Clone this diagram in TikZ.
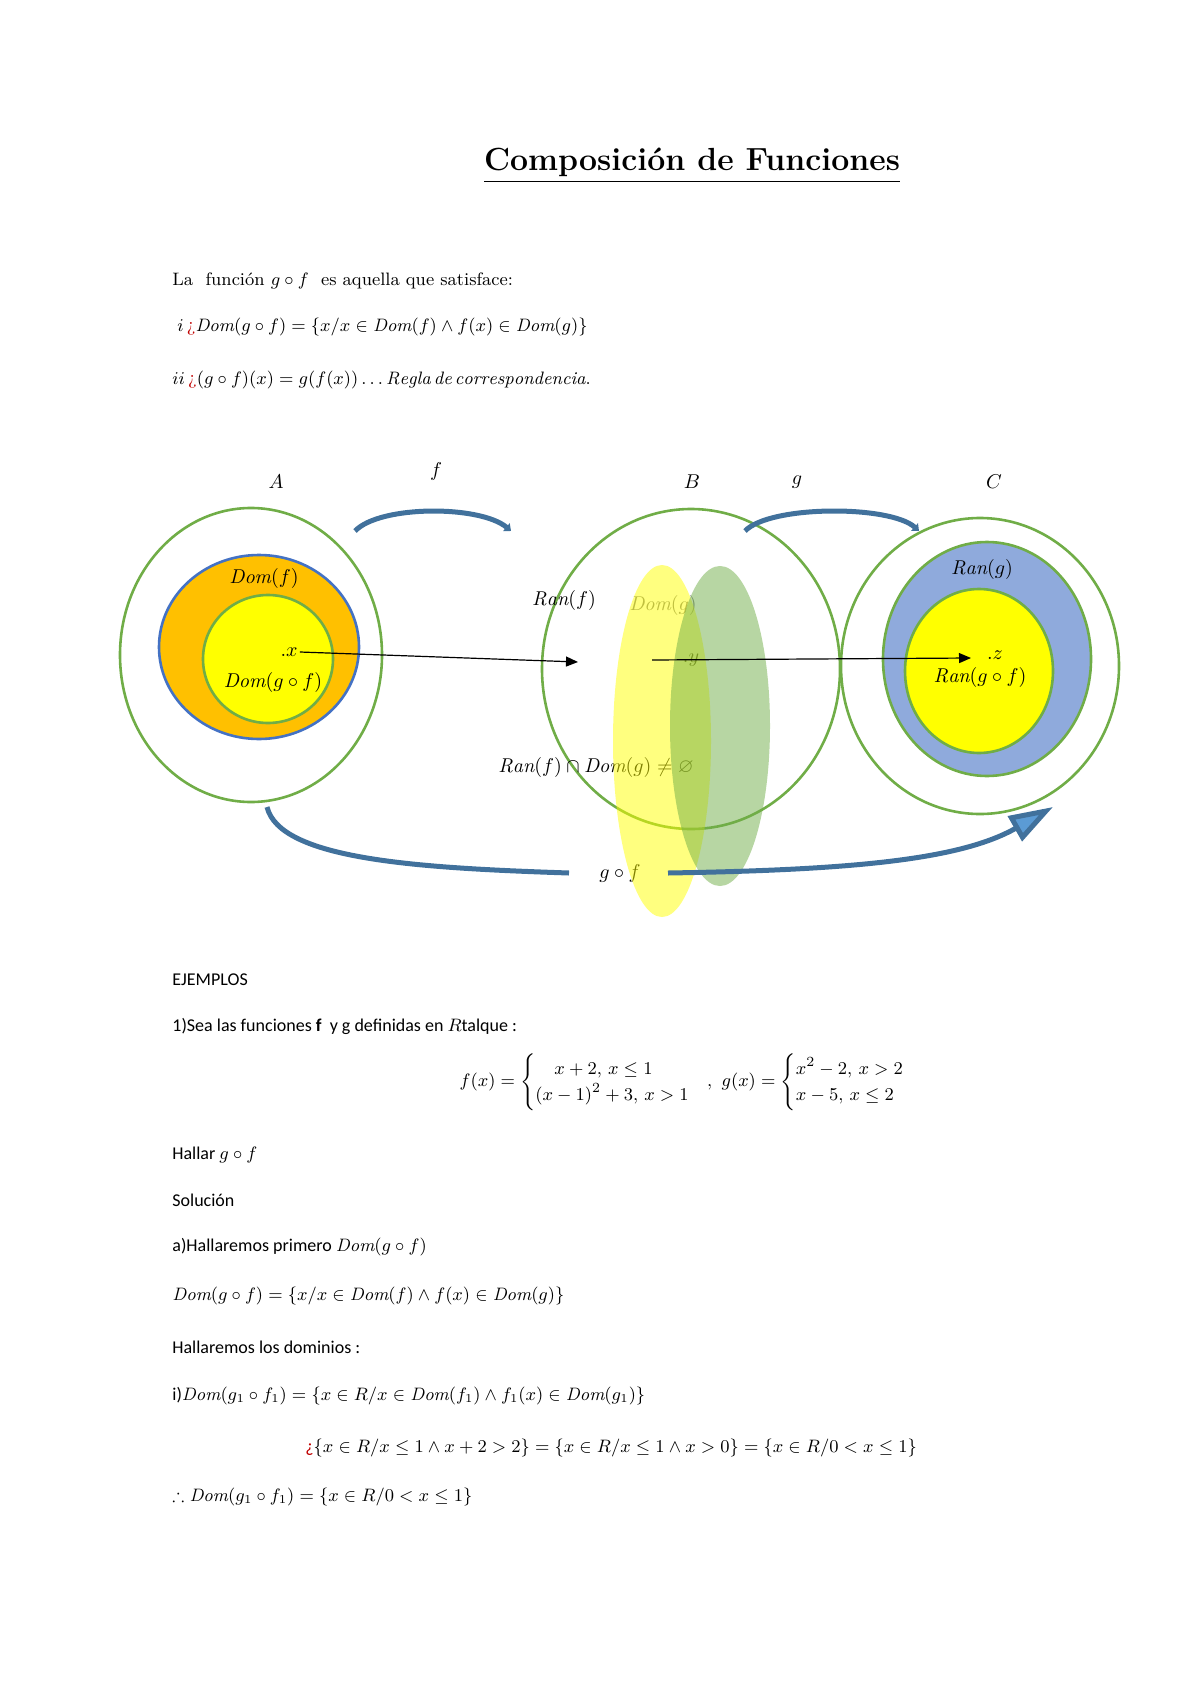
\documentclass[tikz,border=0pt]{standalone}
\usepackage{amsmath,amssymb}
\usepackage{fontspec}
\newfontfamily\carl{Carlito}
\usetikzlibrary{arrows.meta}
\definecolor{gr}{HTML}{70AD47}
\definecolor{bl}{HTML}{4472C4}
\definecolor{or}{HTML}{FFC000}
\definecolor{lb}{HTML}{8FAADC}
\definecolor{ab}{HTML}{41719C}
\definecolor{ah}{HTML}{5B9BD5}
\definecolor{rd}{HTML}{C00000}
\definecolor{yl}{HTML}{FFFF00}
\newcommand{\D}{\mathit{Dom}}
\newcommand{\Rn}{\mathit{Ran}}
\begin{document}
\begin{tikzpicture}[x=0.5pt,y=-0.5pt,
  ell/.style={line width=1.3pt},
  lab/.style={font=\fontsize{10}{12}\selectfont},
  txt/.style={anchor=west,inner sep=0pt,font=\fontsize{9}{11}\selectfont},
  stxt/.style={anchor=west,inner sep=0pt,font=\carl\fontsize{9}{11}\selectfont},
  barrow/.style={ab,line width=2.5pt}]
\useasboundingbox (0,0) rectangle (1200,1696);
\node[font=\bfseries\fontsize{16}{18}\selectfont] (title) at (692,166) {\underline{Composición de Funciones}};
\node[txt] (l1) at (172,281) {La\ \ función $g\circ f$\ \ es aquella que satisface:};
\node[txt] (l2) at (177,327) {$i\,$\textcolor{rd}{¿}$\D(g\circ f)=\{x/x\in \D(f)\wedge f(x)\in \D(g)\}$};
\node[txt] (l3) at (172,380) {$ii\,$\textcolor{rd}{¿}$(g\circ f)(x)=g(f(x))\ldots \mathit{Regla\,de\,correspondencia}.$};
% A
\draw[gr,ell] (251,655) ellipse [x radius=131,y radius=147];
\draw[bl,ell,fill=or] (259,647) ellipse [x radius=100,y radius=92];
\draw[gr,ell,fill=yl] (268,659) ellipse [x radius=65,y radius=64];
% B
\draw[gr,ell] (691,669) ellipse [x radius=149,y radius=160];
% C
\draw[gr,ell] (980,666) ellipse [x radius=139,y radius=148];
\draw[gr,ell,fill=lb] (987,659) ellipse [x radius=104,y radius=117];
\draw[gr,ell,fill=yl] (979,671) ellipse [x radius=74,y radius=82];
% labels
\node[lab] (A) at (276,482) {$A$};
\node[lab] (fl) at (436,471) {$f$};
\node[lab] (B) at (692,482) {$B$};
\node[lab] (gl) at (797,482) {$g$};
\node[lab] (C) at (994,482) {$C$};
\node[lab] (domf) at (264,578) {$\D(f)$};
\node[lab,inner sep=1pt] (x) at (289,652) {$.x$};
\node[lab] (domgf) at (273,682) {$\D(g\circ f)$};
\node[lab] (ranf) at (564,600) {$\Rn(f)$};
\node[lab,inner sep=1pt] (y) at (691,660) {$.y$};
\node[lab] (rang) at (982,569) {$\Rn(g)$};
\node[lab,inner sep=1pt] (z) at (995,655) {$.z$};
\node[lab] (rangf) at (980,677) {$\Rn(g\circ f)$};
\node[lab] (inter) at (596,767) {$\Rn(f)\cap\D(g)\neq\varnothing$};
\node[lab,text=gray] (domg) at (663,605) {$\D(g)$};
\node[lab] (gof) at (620,873) {$g\circ f$};
% transparent ellipses
\fill[yl,opacity=0.5] (662,741) ellipse [x radius=49,y radius=176];
\fill[gr,opacity=0.5] (720,726) ellipse [x radius=50,y radius=160];
% f and g arcs
\coordinate (f1) at (355,531); \coordinate (f2) at (511,531);
\coordinate (g1) at (745,531); \coordinate (g2) at (919,531);
\draw[barrow,-{Triangle[width=5pt,length=3pt]}] (f1) .. controls (380,505) and (480,505) .. (f2);
\draw[barrow,-{Triangle[width=5pt,length=3pt]}] (g1) .. controls (770,505) and (890,505) .. (g2);
% point arrows
\coordinate (bx) at (578,662); \coordinate (ay) at (652,660); \coordinate (cz) at (971,658);
\draw[-{Triangle[width=5pt,length=6pt]},line width=0.6pt] (x.east) -- (bx);
\draw[-{Triangle[width=5pt,length=6pt]},line width=0.6pt] (ay) -- (cz);
% bottom arrow
\coordinate (b1) at (267,807); \coordinate (b2) at (569,873);
\coordinate (b3) at (668,873); \coordinate (b4) at (1053,807);
\draw[barrow] (b1) .. controls (280,860) and (420,868) .. (b2);
\draw[barrow,-{Triangle[width=14pt,length=22pt,fill=ah]}] (b3) .. controls (850,870) and (960,860) .. (b4);
% examples
\node[stxt] (ej) at (172,980) {EJEMPLOS};
\node[stxt] (s1) at (172,1026) {1)Sea las funciones \textbf{f}\ \ y g definidas en $R$talque :};
\node[inner sep=0pt,font=\fontsize{9.5}{11}\selectfont] (pw) at (692,1082) {$f(x)=\begin{cases}\quad x+2,\,x\leq 1\\ (x-1)^2+3,\,x>1\end{cases}\!\!,\ g(x)=\begin{cases}x^2-2,\,x>2\\ x-5,\,x\leq 2\end{cases}$};
\node[stxt] (h) at (172,1155) {Hallar $g\circ f$};
\node[stxt] (sol) at (172,1200) {Solución};
\node[stxt] (a) at (172,1247) {a)Hallaremos primero $\D(g\circ f)$};
\node[stxt] (d1) at (172,1296) {$\D(g\circ f)=\{x/x\in \D(f)\wedge f(x)\in \D(g)\}$};
\node[stxt] (hd) at (172,1347) {Hallaremos los dominios :};
\node[stxt] (i1) at (172,1396) {i)$\D(g_1\circ f_1)=\{x\in R/x\in \D(f_1)\wedge f_1(x)\in \D(g_1)\}$};
\node[stxt] (i2) at (305,1448) {\textcolor{rd}{¿}$\{x\in R/x\leq1\wedge x+2>2\}=\{x\in R/x\leq1\wedge x>0\}=\{x\in R/0<x\leq1\}$};
\node[stxt] (i3) at (172,1497) {$\therefore \D(g_1\circ f_1)=\{x\in R/0<x\leq1\}$};
\end{tikzpicture}
\end{document}
